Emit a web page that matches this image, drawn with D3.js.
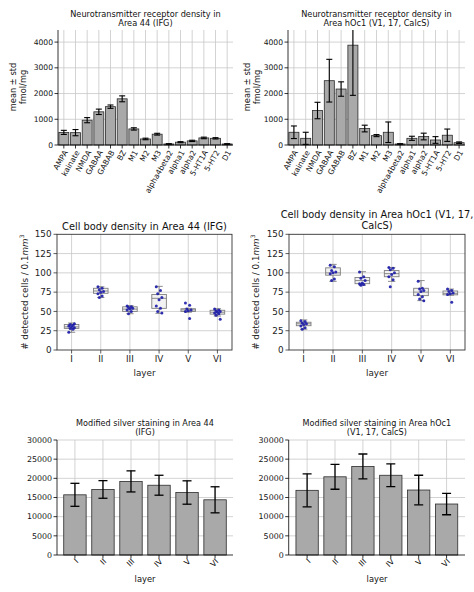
<!DOCTYPE html>
<html>
<head>
<meta charset="utf-8">
<script src="https://cdn.jsdelivr.net/npm/d3@7"></script>
<style>
  body { margin: 0; background: #fff; }
  svg { display: block; font-family: "DejaVu Sans", sans-serif; }
</style>
</head>
<body>
<svg id="fig" width="474" height="592"></svg>
<script>
// receptor densities (fmol/mg)
const receptors = ["AMPA", "kainate", "NMDA", "GABAA", "GABAB", "BZ", "M1", "M2", "M3",
  "alpha4beta2", "alpha1", "alpha2", "5-HT1A", "5-HT2", "D1"];
const receptorTicks = [0, 1000, 2000, 3000, 4000];
const rec44Mean = [490, 480, 965, 1290, 1490, 1795, 625, 235, 420, 40, 110, 160, 275, 260, 40];
const rec44Std = [80, 120, 100, 105, 65, 115, 45, 30, 35, 10, 20, 25, 30, 25, 10];
const recHoc1Mean = [495, 260, 1340, 2500, 2175, 3880, 640, 365, 495, 40, 260, 330, 195, 380, 90];
const recHoc1Std = [245, 235, 320, 830, 280, 1950, 130, 40, 400, 10, 80, 130, 130, 240, 30];

// cell body density per layer
const layers = ["I", "II", "III", "IV", "V", "VI"];
const cellTicks = [0, 25, 50, 75, 100, 125, 150];
const cell44Points = [
  [23, 27, 28, 29, 30, 31, 32, 33, 34],
  [82, 80, 78, 76, 75, 73, 70, 68],
  [57, 56, 55, 54, 53, 52, 50, 47],
  [82, 77, 73, 68, 65, 57, 54, 50, 48],
  [61, 58, 53, 52, 51, 50, 41],
  [53, 52, 51, 50, 49, 48, 47, 45, 40]
];
// box stats: [whisker low, q1, median, q3, whisker high]
const cell44Box = [
  [23, 28, 30, 33, 35],
  [68, 73.5, 76.5, 80, 82],
  [47, 50, 53, 56, 57.5],
  [47.5, 54, 67, 72, 82.5],
  [49, 50, 52, 53.5, 54],
  [44, 46.5, 49, 51.5, 53.5]
];
const cellHoc1Points = [
  [38, 37, 35, 34, 33, 31, 29, 27],
  [110, 108, 103, 101, 100, 99, 92, 90],
  [101, 95, 93, 90, 87, 86, 85, 84],
  [107, 106, 104, 100, 98, 95, 91, 82],
  [89, 80, 79, 77, 76, 72, 69, 66, 64],
  [79, 77, 76, 74, 73, 72, 62]
];
const cellHoc1Box = [
  [27, 31.5, 34, 36, 39],
  [89, 97, 100, 106.5, 111],
  [84, 86, 90, 94, 101.5],
  [89, 95, 99, 103, 107],
  [64, 70.5, 75, 80, 90],
  [71, 71.5, 73.5, 76.5, 79]
];

// modified silver staining per layer
const silverTicks = [0, 5000, 10000, 15000, 20000, 25000, 30000];
const silver44Mean = [15700, 17100, 19200, 18200, 16300, 14400];
const silver44Std = [3000, 2300, 2750, 2600, 3050, 3400];
const silverHoc1Mean = [16870, 20400, 23100, 20800, 16950, 13300];
const silverHoc1Std = [4300, 3250, 3250, 2950, 3850, 2800];

const svg = d3.select("#fig");

function titleLines(g, lines, cx, y0, size, lh) {
  lines.forEach((t, i) => {
    g.append("text").attr("x", cx).attr("y", y0 + i * lh)
      .attr("text-anchor", "middle").attr("font-size", size).attr("fill", "#111").text(t);
  });
}

// bar chart with error bars, left+bottom spines only
function barPanel(o) {
  const g = svg.append("g");
  const x = d3.scaleBand().domain(o.cats).range([o.left, o.right])
    .paddingInner(o.pin).paddingOuter(o.pout);
  const y = d3.scaleLinear().domain([0, o.ymax]).range([o.bottom, o.top]);
  const clipId = "clip" + Math.round(o.left) + "_" + Math.round(o.top);
  g.append("clipPath").attr("id", clipId).append("rect")
    .attr("x", o.left).attr("y", o.top).attr("width", o.right - o.left).attr("height", o.bottom - o.top);

  // grid
  g.append("g").selectAll("line").data(o.ticks.slice(1)).join("line")
    .attr("x1", o.left).attr("x2", o.right)
    .attr("y1", d => y(d)).attr("y2", d => y(d))
    .attr("stroke", "#c8c8c8").attr("stroke-width", 0.8);
  g.append("g").selectAll("line").data(o.cats).join("line")
    .attr("x1", d => x(d) + x.bandwidth() / 2).attr("x2", d => x(d) + x.bandwidth() / 2)
    .attr("y1", o.top).attr("y2", o.bottom)
    .attr("stroke", "#c8c8c8").attr("stroke-width", 0.8);

  // bars
  g.append("g").selectAll("rect").data(o.cats).join("rect")
    .attr("x", d => x(d)).attr("width", x.bandwidth())
    .attr("y", (d, i) => y(o.mean[i])).attr("height", (d, i) => y(0) - y(o.mean[i]))
    .attr("fill", "#a9a9a9").attr("stroke", "#2b2b2b").attr("stroke-width", 0.8);

  // error bars
  const eb = g.append("g").attr("clip-path", `url(#${clipId})`)
    .attr("stroke", "#000").attr("stroke-width", o.ebw);
  o.cats.forEach((c, i) => {
    const cx = x(c) + x.bandwidth() / 2;
    const lo = y(Math.max(0, o.mean[i] - o.std[i])), hi = y(o.mean[i] + o.std[i]);
    eb.append("line").attr("x1", cx).attr("x2", cx).attr("y1", lo).attr("y2", hi);
    eb.append("line").attr("x1", cx - o.cap).attr("x2", cx + o.cap).attr("y1", lo).attr("y2", lo);
    eb.append("line").attr("x1", cx - o.cap).attr("x2", cx + o.cap).attr("y1", hi).attr("y2", hi);
  });

  // spines
  g.append("line").attr("x1", o.left).attr("x2", o.left).attr("y1", o.top).attr("y2", o.bottom)
    .attr("stroke", "#000").attr("stroke-width", 0.8);
  g.append("line").attr("x1", o.left).attr("x2", o.right).attr("y1", o.bottom).attr("y2", o.bottom)
    .attr("stroke", "#000").attr("stroke-width", 0.8);

  // y ticks
  const yt = g.append("g").selectAll("g").data(o.ticks).join("g")
    .attr("transform", d => `translate(${o.left},${y(d)})`);
  yt.append("line").attr("x1", -3.5).attr("x2", 0).attr("stroke", "#000").attr("stroke-width", 0.8);
  yt.append("text").attr("x", -5).attr("dy", "0.35em").attr("text-anchor", "end")
    .attr("font-size", o.tickSize).attr("fill", "#111").text(d => d);

  // x ticks
  const xt = g.append("g").selectAll("g").data(o.cats).join("g")
    .attr("transform", d => `translate(${x(d) + x.bandwidth() / 2},${o.bottom})`);
  xt.append("line").attr("y1", 0).attr("y2", 3.5).attr("stroke", "#000").attr("stroke-width", 0.8);
  xt.append("text")
    .attr("transform", `translate(${o.lblDx},${o.lblDy}) rotate(${-o.rot})`)
    .attr("text-anchor", "end").attr("dy", "0.35em")
    .attr("font-size", o.tickSize).attr("fill", "#111").text(d => d);

  titleLines(g, o.title, (o.left + o.right) / 2, o.titleY, o.titleSize, o.titleSize * 1.17);
  return g;
}

// box plot with strip points, full frame
function boxPanel(o) {
  const g = svg.append("g");
  const x = d3.scaleBand().domain(layers).range([o.left, o.right]);
  const y = d3.scaleLinear().domain([0, 150]).range([o.bottom, o.top]);
  const bw = x.bandwidth() * 0.5;

  g.append("g").selectAll("line").data(cellTicks.slice(1, -1)).join("line")
    .attr("x1", o.left).attr("x2", o.right).attr("y1", d => y(d)).attr("y2", d => y(d))
    .attr("stroke", "#c8c8c8").attr("stroke-width", 0.8);
  g.append("g").selectAll("line").data(layers).join("line")
    .attr("x1", d => x(d) + x.bandwidth() / 2).attr("x2", d => x(d) + x.bandwidth() / 2)
    .attr("y1", o.top).attr("y2", o.bottom)
    .attr("stroke", "#c8c8c8").attr("stroke-width", 0.8);

  layers.forEach((l, i) => {
    const cx = x(l) + x.bandwidth() / 2;
    const [wl, q1, md, q3, wh] = o.box[i];
    const bg = g.append("g").attr("stroke", "#7f7f7f").attr("stroke-width", 0.9).attr("fill", "none");
    bg.append("line").attr("x1", cx).attr("x2", cx).attr("y1", y(q3)).attr("y2", y(wh));
    bg.append("line").attr("x1", cx).attr("x2", cx).attr("y1", y(q1)).attr("y2", y(wl));
    bg.append("line").attr("x1", cx - bw / 4).attr("x2", cx + bw / 4).attr("y1", y(wh)).attr("y2", y(wh));
    bg.append("line").attr("x1", cx - bw / 4).attr("x2", cx + bw / 4).attr("y1", y(wl)).attr("y2", y(wl));
    bg.append("rect").attr("x", cx - bw / 2).attr("width", bw)
      .attr("y", y(q3)).attr("height", y(q1) - y(q3)).attr("fill", "#f2f2f2");
    bg.append("line").attr("x1", cx - bw / 2).attr("x2", cx + bw / 2).attr("y1", y(md)).attr("y2", y(md));

    g.append("g").selectAll("circle").data(o.points[i]).join("circle")
      .attr("cx", (d, j) => cx + (((j * 3) % 5) - 2) * 1.4)
      .attr("cy", d => y(d)).attr("r", 1.5)
      .attr("fill", "#1b1ba8").attr("fill-opacity", 0.9);
  });

  g.append("rect").attr("x", o.left).attr("y", o.top)
    .attr("width", o.right - o.left).attr("height", o.bottom - o.top)
    .attr("fill", "none").attr("stroke", "#333").attr("stroke-width", 0.9);

  const yt = g.append("g").selectAll("g").data(cellTicks).join("g")
    .attr("transform", d => `translate(${o.left},${y(d)})`);
  yt.append("line").attr("x1", -3.5).attr("x2", 0).attr("stroke", "#333").attr("stroke-width", 0.8);
  yt.append("text").attr("x", -5.5).attr("dy", "0.35em").attr("text-anchor", "end")
    .attr("font-size", 8.8).attr("fill", "#222").text(d => d);

  const xt = g.append("g").selectAll("g").data(layers).join("g")
    .attr("transform", d => `translate(${x(d) + x.bandwidth() / 2},${o.bottom})`);
  xt.append("line").attr("y1", 0).attr("y2", 3.5).attr("stroke", "#333").attr("stroke-width", 0.8);
  xt.append("text").attr("y", 12).attr("text-anchor", "middle")
    .attr("font-size", 8.8).attr("fill", "#222").text(d => d);

  g.append("text").attr("x", (o.left + o.right) / 2).attr("y", o.bottom + 25.5)
    .attr("text-anchor", "middle").attr("font-size", 8.8).attr("fill", "#222").text("layer");

  const yl = g.append("text").attr("transform", `translate(${o.ylabelX},${(o.top + o.bottom) / 2}) rotate(-90)`)
    .attr("text-anchor", "middle").attr("font-size", 8.8).attr("fill", "#222");
  yl.append("tspan").text("# detected cells / 0.1");
  yl.append("tspan").attr("font-style", "italic").text("mm");
  yl.append("tspan").attr("font-size", 6).attr("dy", "-0.7em").text("3");

  titleLines(g, o.title, (o.left + o.right) / 2, o.titleY, 9.8, 11.6);
}

function ylabelTwo(x, yc, gap) {
  const t = svg.append("g").attr("transform", `translate(${x},${yc}) rotate(-90)`);
  t.append("text").attr("text-anchor", "middle").attr("font-size", 8.3).attr("fill", "#111").text("mean ± std");
  t.append("text").attr("y", gap).attr("text-anchor", "middle").attr("font-size", 8.3).attr("fill", "#111").text("fmol/mg");
}

// top row: receptors
barPanel({ cats: receptors, mean: rec44Mean, std: rec44Std, left: 58, right: 233, top: 30, bottom: 145,
  ymax: 4470, ticks: receptorTicks, pin: 0.15, pout: 0.075, cap: 3, ebw: 1.1, tickSize: 7.6,
  rot: 60, lblDx: 2, lblDy: 6, title: ["Neurotransmitter receptor density in", "Area 44 (IFG)"],
  titleY: 16.5, titleSize: 8.2 });
ylabelTwo(15.6, 87, 10);
barPanel({ cats: receptors, mean: recHoc1Mean, std: recHoc1Std, left: 288, right: 465, top: 30, bottom: 145,
  ymax: 4470, ticks: receptorTicks, pin: 0.15, pout: 0.075, cap: 3, ebw: 1.1, tickSize: 7.6,
  rot: 60, lblDx: 2, lblDy: 6, title: ["Neurotransmitter receptor density in", "Area hOc1 (V1, 17, CalcS)"],
  titleY: 16.5, titleSize: 8.2 });
ylabelTwo(249.6, 87, 10);

// middle row: cell body density
boxPanel({ box: cell44Box, points: cell44Points, left: 57, right: 232, top: 234.3, bottom: 350,
  ylabelX: 28, title: ["Cell body density in Area 44 (IFG)"], titleY: 229.5 });
boxPanel({ box: cellHoc1Box, points: cellHoc1Points, left: 289, right: 465, top: 234.3, bottom: 350,
  ylabelX: 259, title: ["Cell body density in Area hOc1 (V1, 17,", "CalcS)"], titleY: 217.8 });

// bottom row: silver staining
const s1 = barPanel({ cats: layers, mean: silver44Mean, std: silver44Std, left: 57, right: 233, top: 440, bottom: 555,
  ymax: 30000, ticks: silverTicks, pin: 0.2, pout: 0.24, cap: 4.5, ebw: 1.3, tickSize: 7.9,
  rot: 45, lblDx: 2, lblDy: 5, title: ["Modified silver staining in Area 44", "(IFG)"],
  titleY: 425.5, titleSize: 8.1 });
const s2 = barPanel({ cats: layers, mean: silverHoc1Mean, std: silverHoc1Std, left: 288.7, right: 465, top: 440, bottom: 555,
  ymax: 30000, ticks: silverTicks, pin: 0.2, pout: 0.26, cap: 4.5, ebw: 1.3, tickSize: 7.9,
  rot: 45, lblDx: 2, lblDy: 5, title: ["Modified silver staining in Area hOc1", "(V1, 17, CalcS)"],
  titleY: 425.5, titleSize: 8.1 });
[[s1, 145], [s2, 377]].forEach(([g, cx]) => {
  g.append("text").attr("x", cx).attr("y", 582).attr("text-anchor", "middle")
    .attr("font-size", 8.3).attr("fill", "#111").text("layer");
});
</script>
</body>
</html>
